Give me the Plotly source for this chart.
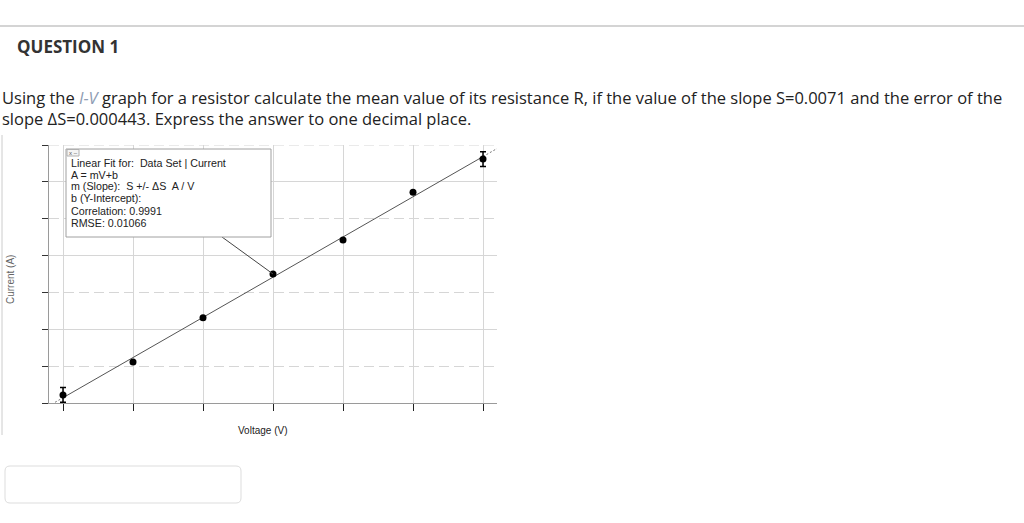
import numpy as np
import plotly.graph_objects as go

# ---- data (grid units) ----
voltage = [0, 1, 2, 3, 4, 5, 6]
current = [0.22, 1.11, 2.31, 3.50, 4.42, 5.72, 6.62]
current_err = [0.2, 0, 0, 0, 0, 0, 0.2]

fit_lines = [
    "Linear Fit for:  Data Set | Current",
    "A = mV+b",
    "m (Slope):  S +/- \u0394S  A / V",
    "b (Y-Intercept):",
    "Correlation: 0.9991",
    "RMSE: 0.01066",
]
title_text = "QUESTION 1"
question_line1 = ("Using the <i><span style='color:#8e9cb3'>I-V</span></i> graph for a resistor calculate the mean "
                  "value of its resistance R, if the value of the slope S=0.0071 and the error of the")
question_line2 = "slope \u0394S=0.000443. Express the answer to one decimal place."

W, H = 1024, 523
L, R, T, B = 49, 497, 145, 403  # plot area in pixels


def px(x):
    return (x - L) / (R - L)


def py(y):
    return (B - y) / (B - T)


m, b = np.polyfit(voltage, current, 1)
xmin, xmax = -0.2, 6.2
ymin, ymax = 0, 7

fig = go.Figure()

# extrapolated (dotted) parts of the fit
x_lo = [-0.114, 0]
x_hi = [6, xmax]
for xs in (x_lo, x_hi):
    fig.add_trace(go.Scatter(x=xs, y=[m * v + b for v in xs], mode="lines",
                             line=dict(color="#777", width=1, dash="2px,2px"),
                             hoverinfo="skip", showlegend=False))
xs = [0, 6]
fig.add_trace(go.Scatter(x=xs, y=[m * v + b for v in xs], mode="lines",
                         line=dict(color="#555", width=1), hoverinfo="skip", showlegend=False))

fig.add_trace(go.Scatter(
    x=voltage, y=current, mode="markers",
    marker=dict(color="black", size=7),
    error_y=dict(type="data", array=current_err, visible=True, color="black", thickness=1.5, width=3),
    showlegend=False))

shapes = []
# top separator line
shapes.append(dict(type="line", xref="paper", yref="paper", x0=px(0), x1=px(W), y0=py(26), y1=py(26),
                   line=dict(color="#d4d4d4", width=2)))
# left vertical line
shapes.append(dict(type="line", xref="paper", yref="paper", x0=px(2), x1=px(2), y0=py(135), y1=py(435),
                   line=dict(color="#cccccc", width=1)))
# dashed top gridline (range edge)
shapes.append(dict(type="line", xref="paper", yref="y", x0=0, x1=1, y0=ymax, y1=ymax,
                   line=dict(color="#d6d6d6", width=1, dash="10px,5px"), layer="between"))
# white gap over a gridline
shapes.append(dict(type="rect", xref="paper", yref="paper", x0=px(131), x1=px(180), y0=py(253), y1=py(258),
                   line=dict(width=0), fillcolor="white", layer="between"))
# connector line from box to point
shapes.append(dict(type="line", xref="paper", yref="paper", x0=px(222), y0=py(237), x1=px(273), y1=py(274),
                   line=dict(color="#444", width=1)))
# callout box
shapes.append(dict(type="rect", xref="paper", yref="paper", x0=px(66), x1=px(271), y0=py(149), y1=py(237),
                   line=dict(color="#a0a0a0", width=1), fillcolor="white"))
# tiny window icon
shapes.append(dict(type="rect", xref="paper", yref="paper", x0=px(67), x1=px(79), y0=py(149.5), y1=py(156),
                   line=dict(color="#b0b0b0", width=1), fillcolor="#f4f4f4"))
# answer input box (rounded)
x0, x1, y0, y1, r = px(5), px(241), py(466), py(503), 5
rx, ry = r / (R - L), r / (B - T)
path = (f"M {x0+rx},{y0} L {x1-rx},{y0} Q {x1},{y0} {x1},{y0-ry} L {x1},{y1+ry} Q {x1},{y1} {x1-rx},{y1} "
        f"L {x0+rx},{y1} Q {x0},{y1} {x0},{y1+ry} L {x0},{y0-ry} Q {x0},{y0} {x0+rx},{y0} Z")
shapes.append(dict(type="path", xref="paper", yref="paper", path=path,
                   line=dict(color="#dddddd", width=1), fillcolor="white"))

annotations = []
annotations.append(dict(text="<b>" + title_text + "</b>", xref="paper", yref="paper", x=px(15), y=py(46),
                        xanchor="left", yanchor="middle", showarrow=False,
                        font=dict(family="Open Sans", size=17, color="#333")))
annotations.append(dict(text=question_line1 + "<br>" + question_line2, xref="paper", yref="paper",
                        x=px(0), y=py(107.5), xanchor="left", yanchor="middle", align="left",
                        showarrow=False, font=dict(family="Open Sans", size=16.5, color="#222")))
ys = [163, 174.5, 186, 198, 210.5, 223]
for t, yy in zip(fit_lines, ys):
    annotations.append(dict(text=t, xref="paper", yref="paper", x=px(69), y=py(yy),
                            xanchor="left", yanchor="middle", showarrow=False,
                            font=dict(family="Liberation Sans", size=10.7, color="#222")))
annotations.append(dict(text="x \u2013", xref="paper", yref="paper", x=px(73), y=py(152.5),
                        xanchor="center", yanchor="middle", showarrow=False,
                        font=dict(family="Liberation Sans", size=6, color="#555")))
annotations.append(dict(text="Current (A)", xref="paper", yref="paper", x=px(10), y=py(280),
                        xanchor="center", yanchor="middle", textangle=-90, showarrow=False,
                        font=dict(family="Liberation Sans", size=10, color="#666")))
annotations.append(dict(text="Voltage (V)", xref="paper", yref="paper", x=px(262), y=py(430),
                        xanchor="center", yanchor="middle", showarrow=False,
                        font=dict(family="Liberation Sans", size=10, color="#222")))

fig.update_layout(
    width=W, height=H, autosize=False,
    margin=dict(l=L, r=W - R, t=T, b=H - B, pad=0),
    paper_bgcolor="white", plot_bgcolor="white",
    shapes=shapes, annotations=annotations,
    xaxis=dict(range=[xmin, xmax], dtick=1, tick0=0, showticklabels=False,
               ticks="outside", ticklen=7, tickcolor="#222", tickwidth=1,
               showgrid=True, gridcolor="#d6d6d6", gridwidth=1,
               showline=True, linecolor="#9a9a9a", linewidth=1, zeroline=False),
    yaxis=dict(range=[ymin, ymax], dtick=2, tick0=0, showticklabels=False,
               ticks="outside", ticklen=6, tickcolor="#333", tickwidth=1,
               showgrid=True, gridcolor="#d6d6d6", gridwidth=1,
               minor=dict(dtick=1, tick0=0, showgrid=True, gridcolor="#d6d6d6", griddash="10px,5px",
                          ticks="outside", ticklen=6, tickcolor="#333"),
               showline=True, linecolor="#9a9a9a", linewidth=1, zeroline=False),
)

fig.write_html("out.html", config={"displayModeBar": False},
               post_script="document.body.style.margin='0';document.body.style.overflow='hidden';")
